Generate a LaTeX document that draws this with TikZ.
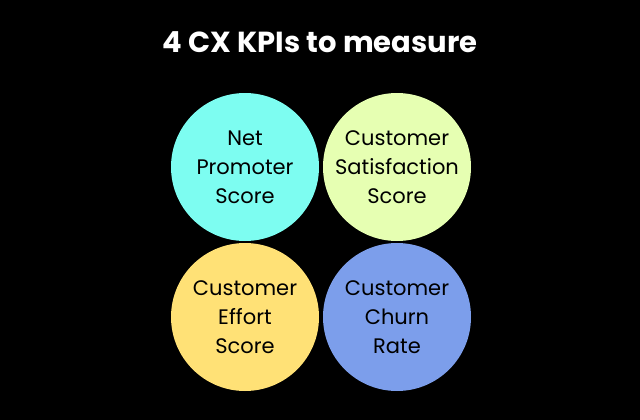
\documentclass[tikz,border=0pt]{standalone}
\usepackage{fontspec}
\setmainfont{Poppins}
\begin{document}
\begin{tikzpicture}[x=1pt,y=-1pt,
  kpi/.style={circle,minimum size=148pt,inner sep=0pt,align=center,font=\fontsize{21}{29}\selectfont,text=black}]
\fill[black] (0,0) rectangle (640,420);
\useasboundingbox (0,0) rectangle (640,420);
\definecolor{c1}{HTML}{7DFDF1}
\definecolor{c2}{HTML}{E6FFB2}
\definecolor{c3}{HTML}{FFE176}
\definecolor{c4}{HTML}{7C9EEB}
\node[font=\bfseries\fontsize{29}{34}\selectfont,text=white] (title) at (320,42) {4 CX KPIs to measure};
\node[kpi,fill=c1] (nps) at (245,167) {Net\\Promoter\\Score};
\node[kpi,fill=c2] (csat) at (397,167) {Customer\\Satisfaction\\Score};
\node[kpi,fill=c3] (ces) at (245,317) {Customer\\Effort\\Score};
\node[kpi,fill=c4] (churn) at (397,317) {Customer\\Churn\\Rate};
\end{tikzpicture}
\end{document}
